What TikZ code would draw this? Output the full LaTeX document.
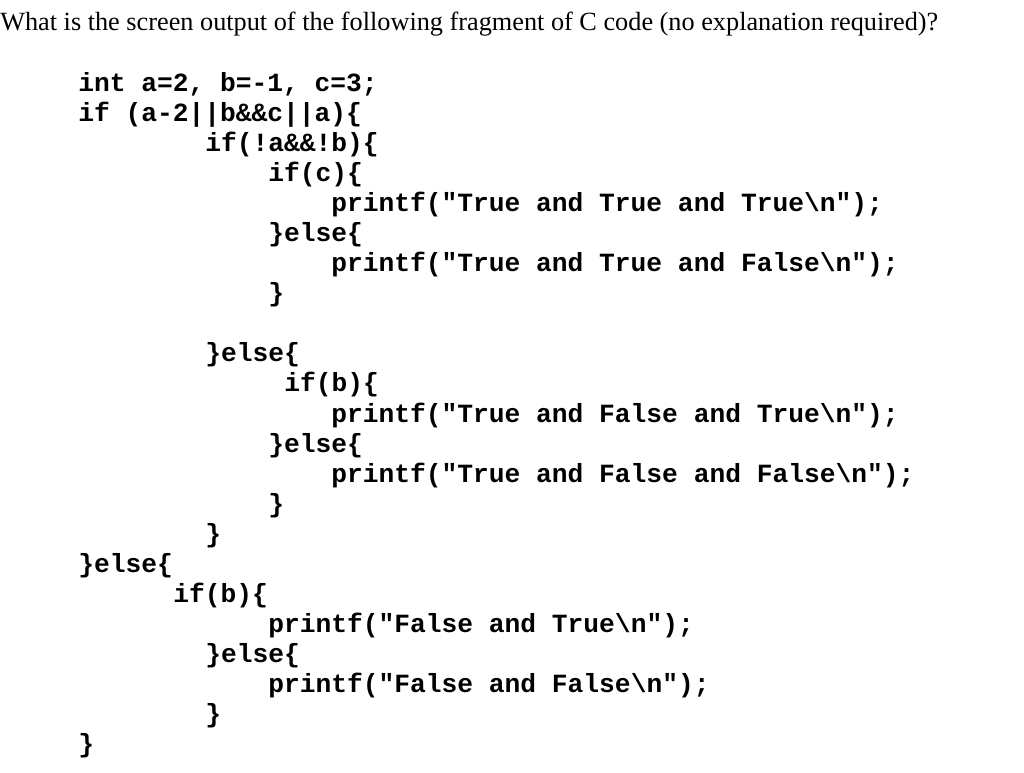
\documentclass[tikz,border=0pt]{standalone}
\usepackage{fontspec}
\setmainfont{Liberation Serif}
\newfontfamily\codefont{Liberation Mono}
\begin{document}
\begin{tikzpicture}[x=0.75pt,y=-0.75pt]
\useasboundingbox (0,0) rectangle (1024,773);
\tikzset{code/.style={anchor=base west,inner sep=0pt,font=\codefont\bfseries\fontsize{19.7}{20}\selectfont},
title/.style={anchor=base west,inner sep=0pt,font=\fontsize{19.7}{22}\selectfont}}
\node[title] (t) at (0,31) {What is the screen output of the following fragment of C code (no explanation required)?};
\def\L#1#2#3{\node[code] (l#1) at (#2,{84+(#1-1)*30+8}) {#3};}
\L{1}{78}{int a=2, b=-1, c=3;}
\L{2}{78}{if (a-2||b\&\&c||a)\{}
\L{3}{205}{if(!a\&\&!b)\{}
\L{4}{268}{if(c)\{}
\L{5}{331}{printf("True and True and True\textbackslash n");}
\L{6}{268}{\}else\{}
\L{7}{331}{printf("True and True and False\textbackslash n");}
\L{8}{268}{\}}
\L{10}{205}{\}else\{}
\L{11}{284}{if(b)\{}
\L{12}{331}{printf("True and False and True\textbackslash n");}
\L{13}{268}{\}else\{}
\L{14}{331}{printf("True and False and False\textbackslash n");}
\L{15}{268}{\}}
\L{16}{205}{\}}
\L{17}{78}{\}else\{}
\L{18}{173}{if(b)\{}
\L{19}{268}{printf("False and True\textbackslash n");}
\L{20}{205}{\}else\{}
\L{21}{268}{printf("False and False\textbackslash n");}
\L{22}{205}{\}}
\L{23}{78}{\}}
\end{tikzpicture}
\end{document}
